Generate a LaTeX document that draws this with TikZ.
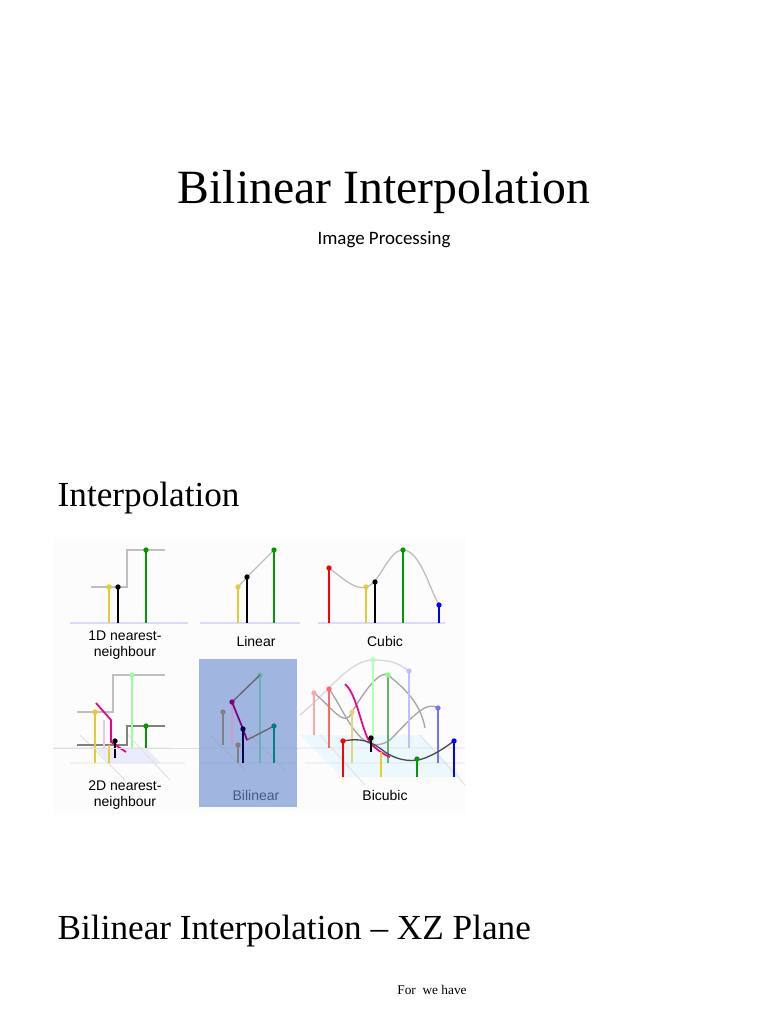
\documentclass[tikz,border=0pt]{standalone}
\usepackage{fontspec}
\setmainfont{Liberation Serif}
\newfontfamily\calib{Carlito}
\newfontfamily\arial{Liberation Sans}
\definecolor{bilbox}{RGB}{160,182,225}
\definecolor{bilfont}{RGB}{70,90,130}
\begin{document}
\begin{tikzpicture}[x=0.75pt,y=-0.75pt,
  lbl/.style={font=\arial\fontsize{10.5}{11.5}\selectfont,align=center,inner sep=0},
  stem/.style={line width=1.3pt},
  dot/.style={circle,inner sep=0,minimum size=4pt},
  gline/.style={gray!50,line width=1pt},
  base/.style={blue!15,line width=0.8pt},
  grid/.style={gray!25,line width=0.6pt}]
\useasboundingbox (0,0) rectangle (768,1024);
\fill[white] (0,0) rectangle (768,1024);
\node (title) at (384,192) {\fontsize{35.8}{40}\selectfont Bilinear Interpolation};
\node (sub) at (384,240) {\calib\fontsize{14.2}{16}\selectfont Image Processing};
\node[anchor=west] (h1) at (53,498) {\fontsize{26.4}{30}\selectfont Interpolation};
\node[anchor=west] (h2) at (53,931) {\fontsize{26.4}{30}\selectfont Bilinear Interpolation -- XZ Plane};
\node (for) at (432,990) {\fontsize{10}{12}\selectfont For\ \ we have};
\fill[gray!2] (53,537) rectangle (465,815);
% ---- 1D NN
\draw[base] (70,623) -- (188,623);
\draw[gline] (91,587) -- (127,587) -- (127,550) -- (165,550);
\draw[stem,yellow!60!brown] (109,623) -- (109,587) node[dot,fill=yellow!60!brown]{};
\draw[stem,black] (118,623) -- (118,587) node[dot,fill=black]{};
\draw[stem,green!60!black] (146,623) -- (146,550) node[dot,fill=green!60!black]{};
\node[lbl] (l1) at (125,645) {1D nearest-\\neighbour};
% ---- Linear
\draw[base] (200,623) -- (300,623);
\draw[gline] (238,587) -- (247,577) -- (274,550);
\draw[stem,yellow!60!brown] (238,623) -- (238,587) node[dot,fill=yellow!60!brown]{};
\draw[stem,black] (247,623) -- (247,577) node[dot,fill=black]{};
\draw[stem,green!60!black] (274,623) -- (274,550) node[dot,fill=green!60!black]{};
\node[lbl] (l2) at (256,641) {Linear};
% ---- Cubic
\draw[base] (318,623) -- (445,623);
\draw[gline] (329,568) .. controls (345,580) and (355,590) .. (366,587) .. controls (380,584) and (388,550) .. (403,550) .. controls (420,550) and (430,590) .. (439,605);
\draw[stem,red] (329,623) -- (329,568) node[dot,fill=red]{};
\draw[stem,yellow!60!brown] (366,623) -- (366,587) node[dot,fill=yellow!60!brown]{};
\draw[stem,black] (375,623) -- (375,582) node[dot,fill=black]{};
\draw[stem,green!60!black] (403,623) -- (403,550) node[dot,fill=green!60!black]{};
\draw[stem,blue] (439,623) -- (439,605) node[dot,fill=blue]{};
\node[lbl] (l3) at (385,641) {Cubic};
% ---- 2D NN
\fill[blue!8] (95,748) -- (146,748) -- (161,763) -- (110,763) -- cycle;
\draw[grid] (53,748) -- (170,748) (70,763) -- (185,763) (80,735) -- (125,780) (128,735) -- (170,780);
\draw[gline] (77,712) -- (113,712) -- (113,675) -- (165,675);
\draw[gray,line width=1pt] (77,745) -- (127,745) -- (127,726) -- (165,726);
\draw[stem,green!40] (132,748) -- (132,675) node[dot,fill=green!40]{};
\draw[stem,violet!20] (104,748) -- (104,720);
\draw[stem,yellow!60!brown] (95,763) -- (95,712) node[dot,fill=yellow!60!brown]{};
\draw[stem,yellow!60!brown] (109,763) -- (109,745);
\draw[stem,green!60!black] (146,748) -- (146,726) node[dot,fill=green!60!black]{};
\draw[line width=1.3pt,magenta] (96,703) -- (111,720) -- (111,742) -- (126,752);
\draw[stem,black] (115,758) -- (115,741) node[dot,fill=black]{};
\node[lbl] (l4) at (125,795) {2D nearest-\\neighbour};
% ---- Bilinear
\draw[grid] (53,748) -- (300,748);
\fill[bilbox] (199,659) rectangle (297,807);
\draw[bilbox!80!gray,line width=0.6pt] (199,748) -- (297,748) (199,763) -- (297,763) (210,735) -- (245,770) (250,735) -- (285,770);
\draw[stem,gray] (223,745) -- (223,712) node[dot,fill=gray]{};
\draw[stem,violet!40] (232,745) -- (232,702);
\draw[stem,teal!60] (260,763) -- (260,675) node[dot,fill=teal!60]{};
\draw[gray!80!black,line width=1pt] (232,702) -- (260,675);
\draw[gray!80!black,line width=1pt] (247,740) -- (274,726);
\draw[line width=1.3pt,violet] (232,702) node[dot,fill=violet]{} -- (243,729) -- (247,740);
\draw[stem,gray] (238,763) -- (238,745) node[dot,fill=gray]{};
\draw[stem,black!70!blue] (243,763) -- (243,729) node[dot,fill=black!70!blue]{};
\draw[stem,teal] (274,763) -- (274,726) node[dot,fill=teal]{};
\node[lbl,text=bilfont] (l5) at (256,795) {Bilinear};
% ---- Bicubic
\fill[cyan!8] (300,735) -- (420,735) -- (462,777) -- (342,777) -- cycle;
\draw[grid] (300,748) -- (465,748) (305,763) -- (465,763) (320,735) -- (365,785) (420,735) -- (465,785);
\draw[gray!30,line width=1pt] (300,715) .. controls (330,690) and (350,660) .. (373,660) .. controls (395,660) and (400,665) .. (409,671);
\draw[gray!70,line width=1pt] (314,693) .. controls (330,705) and (345,730) .. (352,712) .. controls (365,690) and (380,670) .. (388,675) .. controls (400,685) and (420,700) .. (425,728);
\draw[gray!70,line width=1pt] (329,689) .. controls (345,710) and (360,760) .. (390,740) .. controls (410,720) and (425,700) .. (438,708);
\draw[stem,red!35] (314,735) -- (314,693) node[dot,fill=red!35]{};
\draw[stem,red!60] (329,748) -- (329,689) node[dot,fill=red!60]{};
\draw[stem,green!30] (373,748) -- (373,660) node[dot,fill=green!30]{};
\draw[stem,green!50!black!60] (388,763) -- (388,675) node[dot,fill=green!50]{};
\draw[stem,blue!25] (409,748) -- (409,671) node[dot,fill=blue!25]{};
\draw[stem,blue!55] (438,763) -- (438,708) node[dot,fill=blue!55]{};
\draw[stem,yellow!40!brown!60] (352,763) -- (352,712) node[dot,fill=yellow!40!brown!60]{};
\draw[line width=1.3pt,magenta] (345,684) .. controls (358,695) and (362,735) .. (372,745) .. controls (380,752) and (385,755) .. (390,757);
\draw[gray!60!black,line width=1pt] (343,741) .. controls (360,738) and (370,740) .. (385,752) .. controls (400,762) and (415,762) .. (425,758) .. controls (440,752) and (448,745) .. (454,741);
\draw[stem,red] (343,777) -- (343,741) node[dot,fill=red]{};
\draw[stem,yellow!60!brown] (381,777) -- (381,752);
\draw[stem,black] (371,752) -- (371,738) node[dot,fill=black]{};
\draw[stem,green!60!black] (417,777) -- (417,759) node[dot,fill=green!60!black]{};
\draw[stem,blue] (454,777) -- (454,741) node[dot,fill=blue]{};
\node[lbl] (l6) at (385,795) {Bicubic};
\end{tikzpicture}
\end{document}
